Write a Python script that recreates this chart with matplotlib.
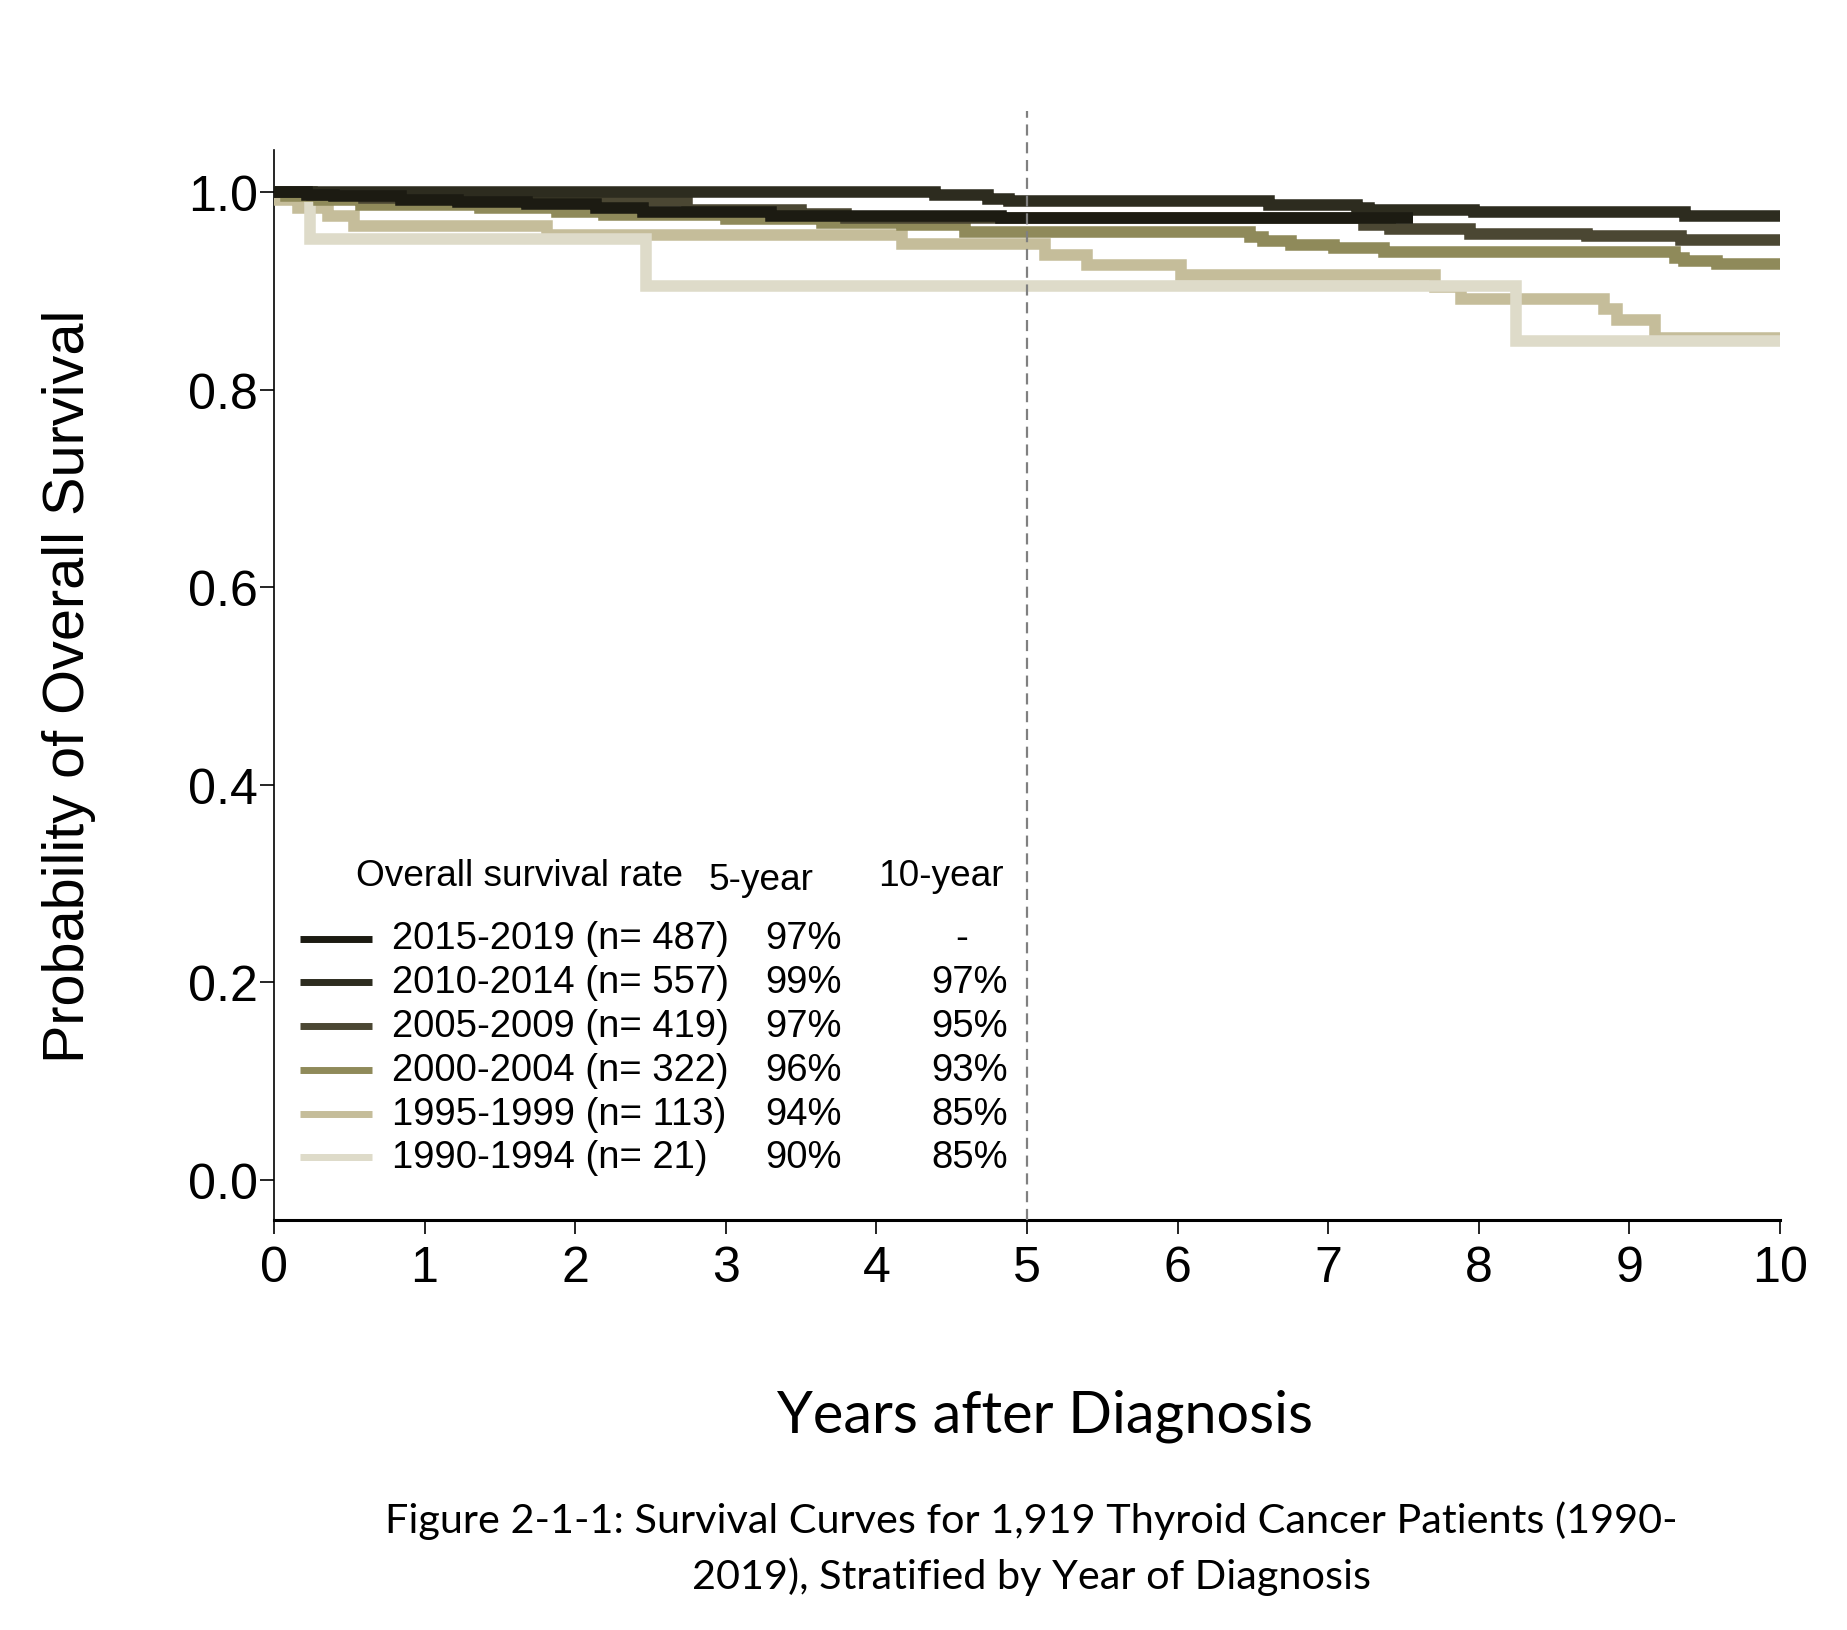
import matplotlib
matplotlib.use('Agg')
import matplotlib.pyplot as plt
from matplotlib import font_manager
from matplotlib.lines import Line2D

# fonts: Stata-style narrow text for the graph, Calibri-like for the caption
names = {f.name for f in font_manager.fontManager.ttflist}
NARROW = 'Liberation Sans Narrow' if 'Liberation Sans Narrow' in names else 'Liberation Sans'
K = 1.0 if NARROW == 'Liberation Sans Narrow' else 0.86
CAP = 'Lato'

# ---- data ----
groups = ['2015-2019', '2010-2014', '2005-2009', '2000-2004', '1995-1999', '1990-1994']
n_pat = [487, 557, 419, 322, 113, 21]
rate_5y = ['97%', '99%', '97%', '96%', '94%', '90%']
rate_10y = ['-', '97%', '95%', '93%', '85%', '85%']
colors = ['#1c1b12', '#2d2c1f', '#4b4733', '#8f8a5a', '#c5bd9a', '#dedbc9']

t_2015 = [0, 0.22, 0.40, 0.84, 1.22, 1.68, 2.14, 2.45, 3.30, 4.83, 7.56]
s_2015 = [1.0, 0.997, 0.9957, 0.9924, 0.9897, 0.988, 0.984, 0.980, 0.976, 0.9735, 0.9735]

t_2010 = [0, 4.39, 4.74, 4.88, 6.61, 7.19, 7.27, 7.97, 9.37, 10]
s_2010 = [1.0, 0.9966, 0.9927, 0.991, 0.9867, 0.984, 0.9815, 0.9797, 0.9756, 0.9756]

t_2005 = [0, 0.25, 0.60, 1.30, 2.74, 3.50, 3.80, 7.24, 7.41, 7.94, 8.72, 9.34, 10]
s_2005 = [1.0, 0.997, 0.994, 0.9905, 0.9815, 0.978, 0.974, 0.967, 0.963, 0.9575, 0.955, 0.9515, 0.9515]

t_2000 = [0, 0.08, 0.30, 0.58, 1.37, 1.88, 2.19, 3.00, 3.64, 4.17, 4.59, 6.48, 6.57, 6.75, 7.04, 7.37,
          9.30, 9.36, 9.58, 10]
s_2000 = [1.0, 0.996, 0.992, 0.9865, 0.984, 0.980, 0.977, 0.973, 0.9685, 0.9665, 0.960, 0.9545, 0.9505,
          0.946, 0.943, 0.939, 0.933, 0.930, 0.927, 0.927]

t_1995 = [0, 0.03, 0.16, 0.36, 0.53, 1.81, 4.17, 5.12, 5.40, 6.02, 7.71, 7.88, 8.83, 8.92, 9.17, 10]
s_1995 = [1.0, 0.992, 0.984, 0.9756, 0.966, 0.9565, 0.9475, 0.9365, 0.926, 0.9155, 0.904, 0.892, 0.882,
          0.870, 0.852, 0.852]

t_1990 = [0, 0.236, 2.47, 8.25, 10]
s_1990 = [1.0, 0.952, 0.905, 0.849, 0.849]

times = [t_2015, t_2010, t_2005, t_2000, t_1995, t_1990]
survs = [s_2015, s_2010, s_2005, s_2000, s_1995, s_1990]
draw_order = [4, 5, 3, 2, 1, 0]

y_ticks = [0.0, 0.2, 0.4, 0.6, 0.8, 1.0]
x_ticks = list(range(0, 11))

# ---- figure, laid out in reference pixels ----
W, H = 1847, 1631
def fx(x): return x / W
def fy(y): return 1 - y / H

fig = plt.figure(figsize=(W / 100, H / 100), dpi=100)
ax = fig.add_axes([fx(274), fy(1220.5), (1780 - 274) / W, (1220.5 - 112) / H])
ax.set_xlim(0, 10)
ax.set_ylim(-0.04, 1.082)

for z, i in enumerate(draw_order):
    ax.step(times[i], survs[i], where='post', color=colors[i], lw=8.3,
            solid_capstyle='butt', solid_joinstyle='miter', zorder=3 + z)

ax.axvline(5, color='#808080', lw=1.6, linestyle=(0, (5, 3)), zorder=10)

for s in ['top', 'right']:
    ax.spines[s].set_visible(False)
ax.spines['left'].set_bounds(-0.04, 1.0425)
ax.spines['left'].set_linewidth(1.2)
ax.spines['bottom'].set_linewidth(2.2)

ax.set_yticks(y_ticks)
ax.set_yticklabels([f'{v:.1f}' for v in y_ticks])
ax.set_xticks(x_ticks)
ax.set_xticklabels([str(v) for v in x_ticks])
ax.tick_params(axis='both', direction='out', length=10, width=1.2, color='black')
ax.tick_params(axis='y', pad=1.5)
ax.tick_params(axis='x', pad=8)
for lab in ax.get_yticklabels() + ax.get_xticklabels():
    lab.set_fontfamily(NARROW)
    lab.set_fontsize(42 * K)

fig.text(fx(69), fy(686), 'Probability of Overall Survival', rotation=90, ha='center', va='center',
         fontsize=41.5, family='Liberation Sans')
fig.text(fx(1045), fy(1416), 'Years after Diagnosis', ha='center', va='center', fontsize=41.5, family=CAP)
fig.text(fx(1031), fy(1521), 'Figure 2-1-1: Survival Curves for 1,919 Thyroid Cancer Patients (1990-',
         ha='center', va='center', fontsize=29.8, family=CAP)
fig.text(fx(1031), fy(1577), '2019), Stratified by Year of Diagnosis',
         ha='center', va='center', fontsize=29.8, family=CAP)

# ---- survival-rate table / legend ----
fig.text(fx(356), fy(877), 'Overall survival rate', va='center', fontsize=31 * K, family=NARROW)
fig.text(fx(709), fy(881), '5-year', va='center', fontsize=31 * K, family=NARROW)
fig.text(fx(878), fy(877), '10-year', va='center', fontsize=31 * K, family=NARROW)

row_fs = 27.5 if K < 1 else 33
row_y = [939.5, 983, 1026.6, 1071, 1115, 1158]
for i, g in enumerate(groups):
    y = row_y[i]
    fig.add_artist(Line2D([fx(300), fx(372)], [fy(y), fy(y)], color=colors[i], lw=5,
                          solid_capstyle='butt', transform=fig.transFigure))
    fig.text(fx(392), fy(y), f'{g} (n= {n_pat[i]})', va='center', fontsize=row_fs, family=NARROW)
    fig.text(fx(842), fy(y), rate_5y[i], va='center', ha='right', fontsize=row_fs, family=NARROW)
    if rate_10y[i] == '-':
        fig.text(fx(962), fy(y), rate_10y[i], va='center', ha='center', fontsize=row_fs, family=NARROW)
    else:
        fig.text(fx(1008), fy(y), rate_10y[i], va='center', ha='right', fontsize=row_fs, family=NARROW)

fig.savefig('out.png', dpi=100, facecolor='white')
